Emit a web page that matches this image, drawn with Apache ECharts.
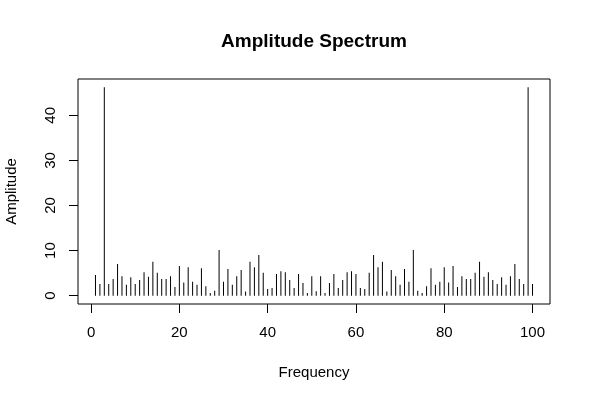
<!DOCTYPE html>
<html>
<head>
<meta charset="utf-8">
<script src="https://cdn.jsdelivr.net/npm/echarts@6/dist/echarts.min.js"></script>
<style>
html,body{margin:0;padding:0;background:#fff;}
#chart{width:591px;height:401px;}
</style>
</head>
<body>
<div id="chart"></div>
<script>
// Frequency index 1..100
const frequency = [
  1,2,3,4,5,6,7,8,9,10,11,12,13,14,15,16,17,18,19,20,
  21,22,23,24,25,26,27,28,29,30,31,32,33,34,35,36,37,38,39,40,
  41,42,43,44,45,46,47,48,49,50,51,52,53,54,55,56,57,58,59,60,
  61,62,63,64,65,66,67,68,69,70,71,72,73,74,75,76,77,78,79,80,
  81,82,83,84,85,86,87,88,89,90,91,92,93,94,95,96,97,98,99,100
];
const amplitude = [
  4.6,2.6,46.2,2.6,3.7,7.0,4.3,2.4,4.1,2.6,
  3.5,5.2,4.2,7.5,5.1,3.7,3.7,4.3,1.9,6.6,
  2.9,6.3,3.1,2.4,6.1,2.1,0.6,1.1,10.1,3.1,
  5.9,2.4,4.3,5.7,0.9,7.5,6.3,9.0,5.1,1.5,
  1.7,4.8,5.4,5.2,3.5,1.7,4.8,2.8,0.6,4.3,
  1.0,4.3,0.6,2.8,4.8,1.7,3.5,5.2,5.4,4.8,
  1.7,1.5,5.1,9.0,6.3,7.5,0.9,5.7,4.3,2.4,
  5.9,3.1,10.1,1.1,0.6,2.1,6.1,2.4,3.1,6.3,
  2.9,6.6,1.9,4.3,3.7,3.7,5.1,7.5,4.2,5.2,
  3.5,2.6,4.1,2.4,4.3,7.0,3.7,2.6,46.2,2.6
];
const xTicks = [0,20,40,60,80,100];
const yTicks = [0,10,20,30,40];

// R-style 4% axis extension
const xLo = Math.min(...frequency), xHi = Math.max(...frequency);
const yLo = 0, yHi = Math.max(...amplitude);
const xPad = (xHi - xLo) * 0.04, yPad = (yHi - yLo) * 0.04;

const font = 'Liberation Sans, Arial, sans-serif';
const chart = echarts.init(document.getElementById('chart'), null, {renderer:'canvas'});
chart.setOption({
  animation: false,
  backgroundColor: '#ffffff',
  title: {
    text: 'Amplitude Spectrum',
    left: 309,
    top: 27,
    textAlign: 'center',
    textStyle: {fontFamily: font, fontSize: 19, fontWeight: 'bold', color: '#000'}
  },
  grid: {
    left: 78, right: 41, top: 79, bottom: 97,
    outerBoundsMode: 'none', containLabel: false,
    show: true, borderColor: '#000', borderWidth: 1, backgroundColor: 'transparent'
  },
  xAxis: {
    type: 'value',
    min: xLo - xPad, max: xHi + xPad,
    name: 'Frequency', nameLocation: 'middle', nameGap: 61, nameMoveOverlap: false,
    nameTextStyle: {fontFamily: font, fontSize: 15, color: '#000'},
    axisLine: {show: false, onZero: false},
    splitLine: {show: false},
    axisTick: {show: true, inside: false, length: 9, customValues: xTicks, lineStyle: {color: '#000', width: 1}},
    axisLabel: {fontFamily: font, fontSize: 15, color: '#000', margin: 21, customValues: xTicks}
  },
  yAxis: {
    type: 'value',
    min: yLo - yPad, max: yHi + yPad,
    name: 'Amplitude', nameLocation: 'middle', nameGap: 59, nameMoveOverlap: false,
    nameTextStyle: {fontFamily: font, fontSize: 15, color: '#000'},
    axisLine: {show: false, onZero: false},
    splitLine: {show: false},
    axisTick: {show: true, inside: false, length: 9, customValues: yTicks, lineStyle: {color: '#000', width: 1}},
    axisLabel: {fontFamily: font, fontSize: 15, color: '#000', margin: 20, rotate: 90, customValues: yTicks}
  },
  series: [{
    type: 'bar',
    barWidth: 1,
    itemStyle: {color: '#000'},
    data: frequency.map((f, i) => [f, amplitude[i]])
  }]
});
</script>
</body>
</html>
